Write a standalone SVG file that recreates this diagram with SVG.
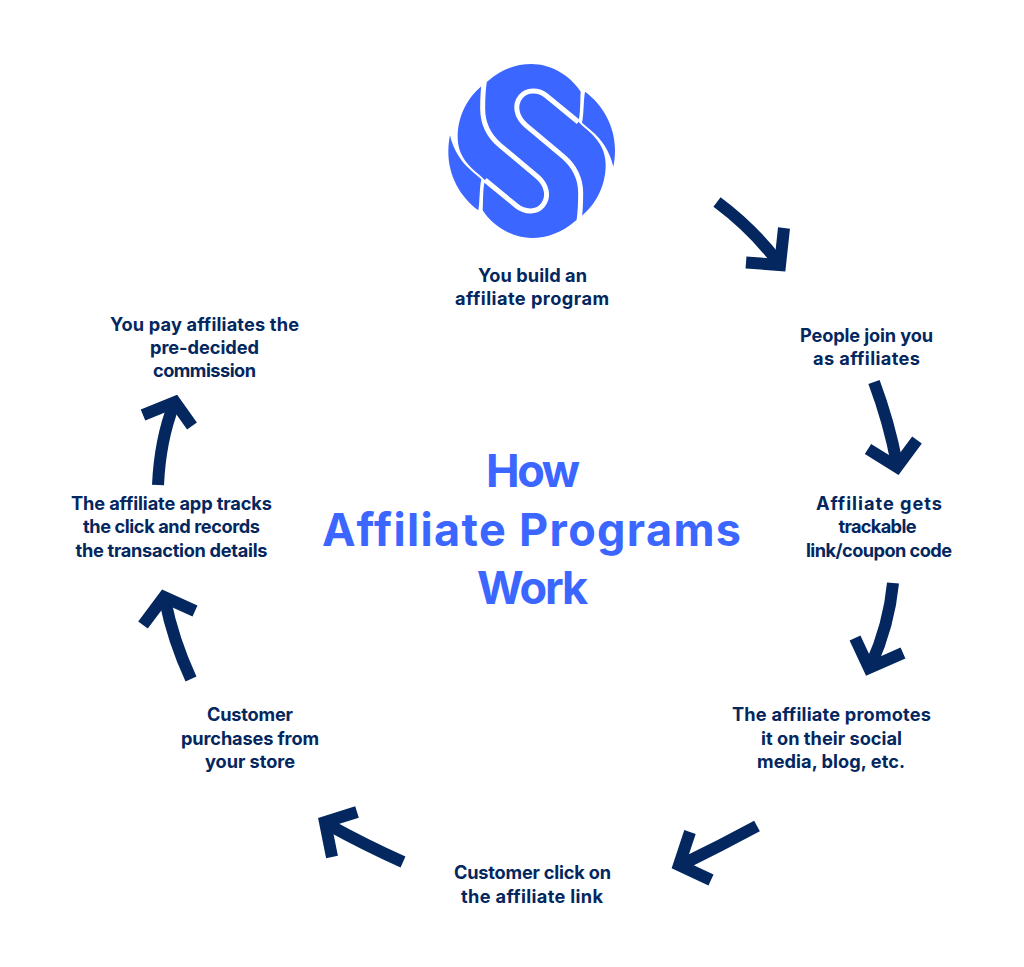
<svg xmlns="http://www.w3.org/2000/svg" width="1024" height="967" viewBox="0 0 1024 967">
<style>
.lbl{font-family:"Inter","Liberation Sans",sans-serif;font-weight:700;font-size:18.2px;fill:#03275e;text-anchor:middle}
.ttl{font-family:"Inter","Liberation Sans",sans-serif;font-weight:700;font-size:45px;fill:#3b66ff;text-anchor:middle}
.arr{fill:none;stroke:#03275e;stroke-width:12;stroke-linejoin:miter;stroke-miterlimit:6}
.cut{fill:none;stroke:#fff;stroke-width:15;stroke-linejoin:round}
.blue{fill:#3b66ff}
</style>
<rect width="1024" height="967" fill="#fff"/>
<g id="connectors">
<g class="arr"><path d="M717,202Q752,228 778,262"/><path d="M746,262.500L780,265L784,228"/></g>
<g class="arr"><path d="M874,382Q889,422 897,464"/><path d="M868,449L897,467L917,440"/></g>
<g class="arr"><path d="M893,583Q889,625 871,665"/><path d="M855,638L869,668L903,653"/></g>
<g class="arr"><path d="M757,826Q720,846 681,865"/><path d="M690,832L679,865L711,880"/></g>
<g class="arr"><path d="M403,862Q365,845 327,824"/><path d="M357,812L325,822L332,857"/></g>
<g class="arr"><path d="M191,679Q173,640 165,600"/><path d="M143,625L164,597L195,611"/></g>
<g class="arr"><path d="M158,485Q160,440 174,404"/><path d="M143,415L175,402L192,426"/></g>
</g>
<g id="logo" transform="translate(430,50) scale(0.33333)">
<path class="blue" d="M175,92C215,58 258,42 305,42C360,42 420,75 452,125C450,155 452,190 445,215L458,228C495,258 527,290 527,345C527,410 495,465 455,498L435,514C395,548 352,564 305,564C250,564 190,531 158,481C160,451 158,416 165,391L152,378C115,348 83,316 83,261C83,196 115,141 155,108Z"/>
<path class="cut" d="M445,216L350,138C325,118 290,118 272,140C252,165 258,200 288,226L400,320C435,350 452,385 452,430C452,455 452,480 447,512"/>
<path class="cut" transform="rotate(180 305 303)" d="M445,216L350,138C325,118 290,118 272,140C252,165 258,200 288,226L400,320C435,350 452,385 452,430C452,455 452,480 447,512"/>
<path class="blue" d="M465,125C520,165 555,230 555,300C555,320 553,335 550,350C540,305 515,268 485,243L456,218C462,190 460,155 465,125Z"/>
<path class="blue" transform="rotate(180 305 303)" d="M465,125C520,165 555,230 555,300C555,320 553,335 550,350C540,305 515,268 485,243L456,218C462,190 460,155 465,125Z"/>
</g>
<g id="title"><text class="ttl" x="533" y="487" textLength="94">How</text><text class="ttl" x="531.500" y="546" textLength="419">Affiliate Programs</text><text class="ttl" x="532.500" y="604" textLength="111">Work</text></g>
<g id="n1"><text class="lbl" x="532.500" y="282" textLength="109">You build an</text><text class="lbl" x="532" y="305" textLength="154">affiliate program</text></g>
<g id="n2"><text class="lbl" x="866.500" y="342" textLength="133">People join you</text><text class="lbl" x="866.500" y="365" textLength="107">as affiliates</text></g>
<g id="n3"><text class="lbl" x="879" y="510" textLength="126">Affiliate gets</text><text class="lbl" x="877.500" y="533" textLength="78">trackable</text><text class="lbl" x="879" y="557" textLength="146">link/coupon code</text></g>
<g id="n4"><text class="lbl" x="831.500" y="721" textLength="199">The affiliate promotes</text><text class="lbl" x="831.500" y="745" textLength="141">it on their social</text><text class="lbl" x="831" y="768" textLength="148">media, blog, etc.</text></g>
<g id="n5"><text class="lbl" x="532.500" y="879" textLength="157">Customer click on</text><text class="lbl" x="532" y="903" textLength="142">the affiliate link</text></g>
<g id="n6"><text class="lbl" x="250" y="721" textLength="86">Customer</text><text class="lbl" x="250" y="745" textLength="138">purchases from</text><text class="lbl" x="250" y="768" textLength="90">your store</text></g>
<g id="n7"><text class="lbl" x="171.500" y="510" textLength="201">The affiliate app tracks</text><text class="lbl" x="171.500" y="533" textLength="177">the click and records</text><text class="lbl" x="171.500" y="557" textLength="192">the transaction details</text></g>
<g id="n8"><text class="lbl" x="204.500" y="331" textLength="189">You pay affiliates the</text><text class="lbl" x="204.500" y="354" textLength="109">pre-decided</text><text class="lbl" x="204.500" y="377" textLength="103">commission</text></g>
</svg>
